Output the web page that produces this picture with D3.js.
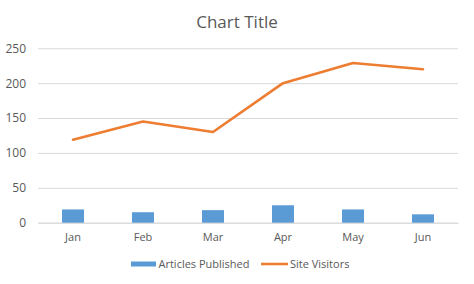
<!DOCTYPE html>
<html><head><meta charset="utf-8">
<script src="https://cdn.jsdelivr.net/npm/d3@7"></script>
<style>body{margin:0;background:#fff}svg{display:block}text{font-family:"Open Sans",sans-serif;fill:#595959}</style>
</head><body>
<script>
const categories = ["Jan","Feb","Mar","Apr","May","Jun"];
const articles = [19,15,18,25,19,12];
const visitors = [119,145,130,200,229,220];
const yTicks = [0,50,100,150,200,250];

const W=474,H=284;
const svg=d3.select("body").append("svg").attr("width",W).attr("height",H);
const m={l:38,r:16,t:48.3,b:61.3};
const x=d3.scaleBand().domain(categories).range([m.l,W-m.r]).paddingInner(0.686).paddingOuter(0.343);
const y=d3.scaleLinear().domain([0,250]).range([H-m.b,m.t]);

svg.append("text").attr("x",237).attr("y",28).attr("text-anchor","middle").style("font-size","17px").text("Chart Title");

const gy=svg.append("g").attr("transform",`translate(${m.l},0)`)
 .call(d3.axisLeft(y).tickValues(yTicks).tickSize(-(W-m.l-m.r)).tickPadding(12));
gy.select(".domain").remove();
gy.selectAll(".tick line").attr("stroke","#d9d9d9");
gy.selectAll(".tick text").style("font-size","12px").style("fill","#595959");

const gx=svg.append("g").attr("transform",`translate(0,${H-m.b})`)
 .call(d3.axisBottom(x).tickSize(0).tickPadding(11));
gx.select(".domain").attr("stroke","#d9d9d9");
gx.selectAll(".tick text").style("font-size","11px").style("fill","#595959");

svg.selectAll("rect.bar").data(articles).join("rect").attr("class","bar")
 .attr("x",(d,i)=>x(categories[i])).attr("width",x.bandwidth())
 .attr("y",d=>y(d)).attr("height",d=>y(0)-y(d)).attr("fill","#5b9bd5");

const line=d3.line().x((d,i)=>x(categories[i])+x.bandwidth()/2).y(d=>y(d));
svg.append("path").datum(visitors).attr("d",line).attr("fill","none")
 .attr("stroke","#ed7d31").attr("stroke-width",2.6).attr("stroke-linejoin","round").attr("stroke-linecap","round");

const lg=svg.append("g");
lg.append("rect").attr("x",131).attr("y",261.5).attr("width",25).attr("height",5).attr("fill","#5b9bd5");
lg.append("text").attr("x",158.5).attr("y",268).style("font-size","11px").text("Articles Published");
lg.append("line").attr("x1",261).attr("x2",288).attr("y1",264).attr("y2",264).attr("stroke","#ed7d31").attr("stroke-width",2.6);
lg.append("text").attr("x",290).attr("y",268).style("font-size","11px").text("Site Visitors");
</script>
</body></html>
